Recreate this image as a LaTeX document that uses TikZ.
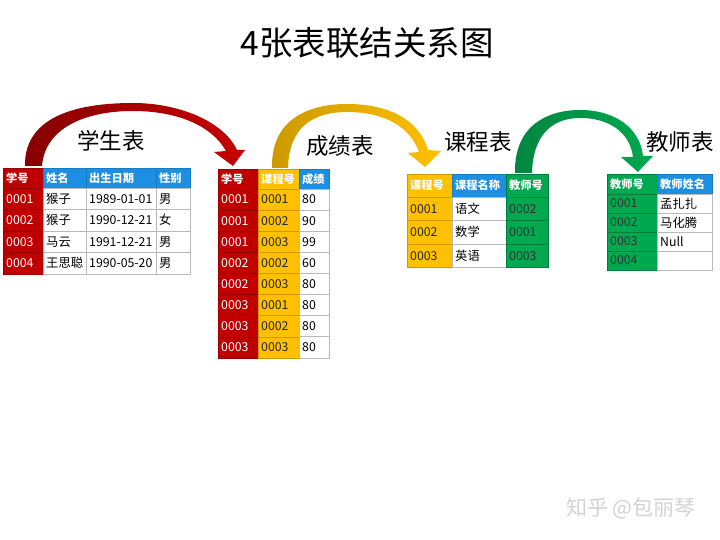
\documentclass[tikz,border=0pt]{standalone}
\usepackage{fontspec}
\setmainfont{Noto Sans CJK SC}
\definecolor{tred}{HTML}{C00000}
\definecolor{tyel}{HTML}{FFC000}
\definecolor{tgrn}{HTML}{00A84F}
\definecolor{tblu}{HTML}{1C8FE3}
\newcommand\mycell[8]{%
  \filldraw[#6] (#2,#3) rectangle (#4,#5);
  \node[celltext,text=#7] (#1) at ({#2+3},{(#3+#5)/2}) {#8};}
\newcommand\hdtxt[1]{{\fontsize{11.2}{12}\selectfont\bfseries #1}}
\begin{document}
\begin{tikzpicture}[x=1pt,y=-1pt,
  celltext/.style={anchor=west,inner sep=0pt,font=\fontsize{12.3}{13}\selectfont},
  redc/.style={fill=tred,draw=tred!80!black,line width=0.4pt},
  yelc/.style={fill=tyel,draw=tyel!80!black,line width=0.4pt},
  grnc/.style={fill=tgrn,draw=tgrn!75!black,line width=0.4pt},
  bluc/.style={fill=tblu,draw=tblu!85!black,line width=0.4pt},
  whtc/.style={fill=white,draw=gray!55,line width=0.5pt},
  ttl/.style={inner sep=0pt,font=\fontsize{22.5}{24}\selectfont}]
\useasboundingbox (0,0) rectangle (720,540);

% main title
\node[inner sep=0pt,font=\fontsize{33.5}{35}\selectfont] (title) at (367,43) {4张表联结关系图};

% ---------- arrows ----------
\shade[left color=tred!70!black,right color=tred!90!red] (25,166) .. controls (24,115) and (80,103) .. (133,103)
  .. controls (180,103) and (224,122) .. (237,150) -- (245,150) -- (233,166) -- (214,152) -- (226,151)
  .. controls (212,126) and (178,111) .. (133,111) .. controls (85,111) and (45,128) .. (42,166) -- cycle;
\shade[left color=tyel!80!black,right color=tyel] (272,168) .. controls (271,118) and (310,104) .. (347,104)
  .. controls (392,104) and (420,122) .. (428,150) -- (441,151) -- (425,167) -- (408,153) -- (419,152)
  .. controls (410,127) and (385,112) .. (347,112) .. controls (312,112) and (289,128) .. (288,168) -- cycle;
\shade[left color=tgrn!80!black,right color=tgrn] (515,173) .. controls (514,125) and (548,110) .. (580,110)
  .. controls (615,110) and (640,128) .. (643,156) -- (653,156) -- (638,172) -- (621,157) -- (633,157)
  .. controls (630,133) and (610,118) .. (580,118) .. controls (552,118) and (533,135) .. (532,173) -- cycle;

% table titles
\node[ttl] (t1t) at (111,141) {学生表};
\node[ttl] (t2t) at (340,146) {成绩表};
\node[ttl] (t3t) at (478,142) {课程表};
\node[ttl] (t4t) at (680,142) {教师表};

% ---------- table 1 ----------
\mycell{t1h1}{3}{168}{43}{188}{redc}{white}{\hdtxt{学号}}
\mycell{t1h2}{43}{168}{86}{188}{bluc}{white}{\hdtxt{姓名}}
\mycell{t1h3}{86}{168}{156}{188}{bluc}{white}{\hdtxt{出生日期}}
\mycell{t1h4}{156}{168}{190}{188}{bluc}{white}{\hdtxt{性别}}
\foreach \a/\b/\c/\d [count=\i] in {0001/猴子/1989-01-01/男,0002/猴子/1990-12-21/女,0003/马云/1991-12-21/男,0004/王思聪/1990-05-20/男}{
  \pgfmathsetmacro\ya{188+21.5*(\i-1)}
  \pgfmathsetmacro\yb{188+21.5*\i}
  \mycell{t1r\i a}{3}{\ya}{43}{\yb}{redc}{white}{\a}
  \mycell{t1r\i b}{43}{\ya}{86}{\yb}{whtc}{black}{\b}
  \mycell{t1r\i c}{86}{\ya}{156}{\yb}{whtc}{black}{\c}
  \mycell{t1r\i d}{156}{\ya}{190}{\yb}{whtc}{black}{\d}
}

% ---------- table 2 ----------
\mycell{t2h1}{218}{169}{258}{189}{redc}{white}{\hdtxt{学号}}
\mycell{t2h2}{258}{169}{299}{189}{yelc}{white}{\hdtxt{课程号}}
\mycell{t2h3}{299}{169}{329}{189}{bluc}{white}{\hdtxt{成绩}}
\foreach \a/\b/\c [count=\i] in {0001/0001/80,0001/0002/90,0001/0003/99,0002/0002/60,0002/0003/80,0003/0001/80,0003/0002/80,0003/0003/80}{
  \pgfmathsetmacro\ya{189+21.1*(\i-1)}
  \pgfmathsetmacro\yb{189+21.1*\i}
  \mycell{t2r\i a}{218}{\ya}{258}{\yb}{redc}{white}{\a}
  \mycell{t2r\i b}{258}{\ya}{299}{\yb}{yelc}{black!85}{\b}
  \mycell{t2r\i c}{299}{\ya}{329}{\yb}{whtc}{black}{\c}
}

% ---------- table 3 ----------
\mycell{t3h1}{407}{174}{452}{197}{yelc}{white}{\hdtxt{课程号}}
\mycell{t3h2}{452}{174}{506}{197}{bluc}{white}{\hdtxt{课程名称}}
\mycell{t3h3}{506}{174}{548}{197}{grnc}{white}{\hdtxt{教师号}}
\foreach \a/\b/\c [count=\i] in {0001/语文/0002,0002/数学/0001,0003/英语/0003}{
  \pgfmathsetmacro\ya{197+23.5*(\i-1)}
  \pgfmathsetmacro\yb{197+23.5*\i}
  \mycell{t3r\i a}{407}{\ya}{452}{\yb}{yelc}{black!85}{\a}
  \mycell{t3r\i b}{452}{\ya}{506}{\yb}{whtc}{black}{\b}
  \mycell{t3r\i c}{506}{\ya}{548}{\yb}{grnc}{black!80}{\c}
}

% ---------- table 4 ----------
\mycell{t4h1}{607}{174}{657}{194}{grnc}{white}{\hdtxt{教师号}}
\mycell{t4h2}{657}{174}{712}{194}{bluc}{white}{\hdtxt{教师姓名}}
\foreach \a/\b [count=\i] in {0001/孟扎扎,0002/马化腾,0003/Null,0004/{}}{
  \pgfmathsetmacro\ya{194+19*(\i-1)}
  \pgfmathsetmacro\yb{194+19*\i}
  \mycell{t4r\i a}{607}{\ya}{657}{\yb}{grnc}{black!80}{\a}
  \mycell{t4r\i b}{657}{\ya}{712}{\yb}{whtc}{black}{\b}
}

% watermark
\node[inner sep=0pt,text=gray!35,font=\fontsize{21}{22}\selectfont] (wm) at (631,508) {知乎 @包丽琴};
\end{tikzpicture}
\end{document}
